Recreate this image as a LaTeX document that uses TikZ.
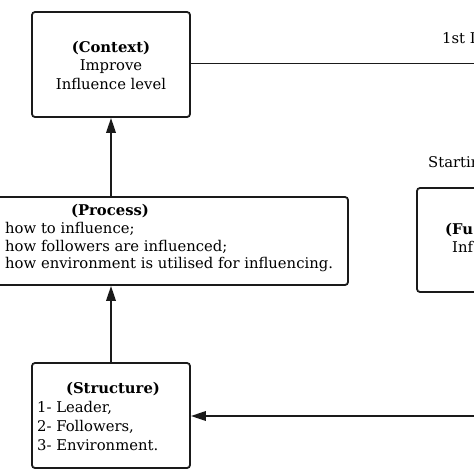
\documentclass[tikz,border=0pt]{standalone}
\usepackage{fontspec}
\setmainfont{DejaVu Serif}
\usetikzlibrary{arrows.meta}
\definecolor{ink}{HTML}{1A1A1A}
\begin{document}
\begin{tikzpicture}[x=1pt,y=-1pt,
  box/.style={draw=ink,line width=1.8pt,rounded corners=3pt,inner sep=0pt},
  txt/.style={inner sep=0pt,text=black,font=\fontsize{14.8}{18}\selectfont},
  btxt/.style={txt,font=\fontsize{14.8}{18}\selectfont\bfseries},
  conn/.style={draw=ink,line width=1.8pt},
  arr/.style={conn,-{Triangle[length=15pt,width=9.5pt]}}]
\useasboundingbox (0,0) rectangle (474,474);
\clip (0,0) rectangle (474,474);
% boxes
\node[box,minimum width=158pt,minimum height=105pt] (context) at (111,64.5) {};
\node[box,minimum width=353pt,minimum height=88pt] (process) at (171.5,241) {};
\node[box,minimum width=158pt,minimum height=105pt] (structure) at (111,415.5) {};
\node[box,minimum width=80pt,minimum height=104pt] (future) at (457,240) {};
% texts
\node[btxt] (t1) at (111,48) {(Context)};
\node[txt] (t2) at (111,67) {Improve};
\node[txt] (t3) at (111,84) {Influence level};
\node[btxt] (p1) at (110,211) {(Process)};
\node[txt,anchor=west] (p2) at (5,229) {how to influence;};
\node[txt,anchor=west] (p3) at (5,247) {how followers are influenced;};
\node[txt,anchor=west] (p4) at (5,265) {how environment is utilised for influencing.};
\node[btxt] (s1) at (113,389) {(Structure)};
\node[txt,anchor=west] (s2) at (37,408) {1- Leader,};
\node[txt,anchor=west] (s3) at (37,427) {2- Followers,};
\node[txt,anchor=west] (s4) at (37,445) {3- Environment.};
\node[txt,anchor=west] (l1) at (442,38) {1st I};
\node[txt,anchor=west] (l2) at (428,162) {Startin};
\node[btxt,anchor=west] (f1) at (445,230) {(Fu};
\node[txt,anchor=west] (f2) at (452,247) {Inf};
% connectors
\coordinate (e1) at (480,63.5);
\coordinate (e2) at (480,416);
\draw[conn] (context.east |- 0,63.5) -- (e1);
\draw[arr] (e2) -- (structure.east |- e2);
\draw[arr] (process.north -| context.south) -- (context.south);
\draw[arr] (structure.north) -- (process.south -| structure.north);
\end{tikzpicture}
\end{document}
